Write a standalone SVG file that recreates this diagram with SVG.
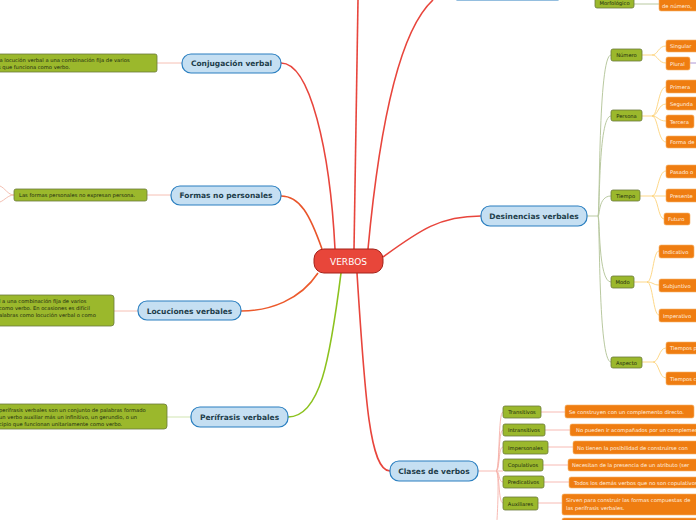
<svg xmlns="http://www.w3.org/2000/svg" width="696" height="520" viewBox="0 0 696 520">
<style>
text{font-family:"DejaVu Sans",Verdana,sans-serif}
.m{fill:#c5dff2;stroke:#2a7fc0;stroke-width:1.2}
.mt{font-size:7.5px;font-weight:bold;fill:#1d3d4a;text-anchor:middle}
.g{fill:#9bb82c;stroke:#6b7a3a;stroke-width:0.8}
.gt{font-size:5.2px;fill:#1c2a10}
.gtc{font-size:5.2px;fill:#1c2a10;text-anchor:middle}
.o{fill:#ef7d11;stroke:#f5b36a;stroke-width:0.6}
.ot{font-size:5.2px;fill:#fff2e0}
.c{fill:none}
</style>
<g id="connectors">
<path class="c" stroke="#e8453c" stroke-width="1.6" d="M335 249 C330 150 310 63 281 63"/>
<path class="c" stroke="#e9552b" stroke-width="1.6" d="M322 249 C310 215 300 196 281 196"/>
<path class="c" stroke="#ec5a2c" stroke-width="1.6" d="M318 273 C300 300 270 311 241 311"/>
<path class="c" stroke="#8cc21e" stroke-width="1.6" d="M341 273 C330 360 320 417 288 417"/>
<path class="c" stroke="#e8453c" stroke-width="1.6" d="M383 257 C420 230 440 216 481 216"/>
<path class="c" stroke="#e8453c" stroke-width="1.6" d="M357 273 C365 400 370 471 390 471"/>
<path class="c" stroke="#e8453c" stroke-width="1.6" d="M354 249 L358 0"/>
<path class="c" stroke="#e8453c" stroke-width="1.6" d="M368 249 C380 120 400 30 433 0"/>
<path class="c" stroke="#f6c0b4" stroke-width="1" d="M157 63 H182 M147 195 H171 M114 311 H138"/>
<path class="c" stroke="#d9eabf" stroke-width="1.2" d="M167 417 H191"/>
<path class="c" stroke="#f0b0a0" stroke-width="0.8" d="M14 195 C8 195 5 188 0 186 M14 195 C8 195 5 200 0 202"/>
<path class="c" stroke="#b9c9a0" stroke-width="1" d="M587 216 H598 C600 216 598 55 611 55 M598 216 C600 216 598 116 611 116 M598 216 C600 216 598 196 611 196 M598 216 C600 216 598 282 611 282 M598 216 C600 216 598 362 611 362 M634 4 H659"/>
<g stroke="#fdd27a" stroke-width="0.9" fill="none">
<path d="M642 55 H652 C658 55 658 46 666 46 M652 55 C658 55 658 63 666 63"/>
<path d="M642 116 H652 C658 116 658 87 666 87 M652 116 C658 116 658 104 666 104 M652 116 C658 116 658 121 666 121 M652 116 C658 116 658 142 666 142"/>
<path d="M640 196 H652 C658 196 658 171 666 171 M652 196 H666 M652 196 C658 196 658 219 664 219"/>
<path d="M634 282 H647 C653 282 653 251 659 251 M647 282 C653 282 653 285 659 285 M647 282 C653 282 653 315 659 315"/>
<path d="M642 362 H653 C659 362 659 348 666 348 M653 362 C659 362 659 378 666 378"/>
</g>
<path stroke="#a58ad0" stroke-width="0.9" d="M690 63 H696"/>
<g stroke="#f6b2aa" stroke-width="0.9" fill="none">
<path d="M478 471 H496 C500 471 498 412 503 412 M496 471 C500 471 498 430 503 430 M496 471 C500 471 498 447 503 447 M496 471 H503 M496 471 C500 471 498 482 503 482 M496 471 C500 471 498 503 503 503 M496 471 C500 471 497 520 497 520"/>
<path d="M541 412 H565 M545 430 H570 M548 447 H573 M543 465 H568 M544 482 H569 M538 503 H562"/>
</g>
</g>
<g id="top"><rect class="m" x="450" y="-20" width="115" height="20" rx="9"/></g>
<g id="morfologico"><rect class="g" x="595" y="-4" width="39" height="12" rx="2"/><text class="gtc" x="614.5" y="5">Morfológico</text></g>
<g id="morf-o"><rect class="o" x="659" y="-10" width="45" height="21" rx="2"/><text class="ot" x="662" y="8">de número,</text></g>
<g id="verbos"><rect x="314" y="249" width="69" height="24" rx="10" fill="#e8463a" stroke="#a5221a" stroke-width="1"/><text x="348.5" y="264.5" font-size="9" fill="#fff" text-anchor="middle">VERBOS</text></g>
<g id="conj"><rect class="m" x="182" y="54" width="99" height="19" rx="9"/><text class="mt" x="231.5" y="66">Conjugación verbal</text></g>
<g id="conj-n"><rect class="g" x="-10" y="54" width="167" height="18" rx="2"/><text class="gt" x="-2" y="62">la locución verbal a una combinación fija de varios</text><text class="gt" x="-2" y="69">s que funciona como verbo.</text></g>
<g id="formas"><rect class="m" x="171" y="186" width="110" height="19" rx="9"/><text class="mt" x="226" y="198">Formas no personales</text></g>
<g id="formas-n"><rect class="g" x="14" y="189" width="133" height="12" rx="2"/><text class="gt" x="19" y="197">Las formas personales no expresan persona.</text></g>
<g id="loc"><rect class="m" x="138" y="301" width="103" height="19" rx="9"/><text class="mt" x="189.5" y="313.5">Locuciones verbales</text></g>
<g id="loc-n"><rect class="g" x="-10" y="295" width="124" height="31" rx="3"/><text class="gt" x="-1" y="303">l a una combinación fija de varios</text><text class="gt" x="-1" y="310">como verbo. En ocasiones es difícil</text><text class="gt" x="-1" y="317">alabras como locución verbal o como</text></g>
<g id="peri"><rect class="m" x="191" y="407" width="97" height="20" rx="9"/><text class="mt" x="239.5" y="419.5">Perífrasis verbales</text></g>
<g id="peri-n"><rect class="g" x="-10" y="404" width="177" height="25" rx="3"/><text class="gt" x="-1" y="412">perífrasis verbales son un conjunto de palabras formado</text><text class="gt" x="-1" y="419">un verbo auxiliar más un infinitivo, un gerundio, o un</text><text class="gt" x="-1" y="426">cipio que funcionan unitariamente como verbo.</text></g>
<g id="desin"><rect class="m" x="481" y="206" width="106" height="20" rx="9"/><text class="mt" x="534" y="218.5">Desinencias verbales</text></g>
<g id="numero"><rect class="g" x="611" y="49" width="31" height="12" rx="2"/><text class="gtc" x="626.5" y="57">Número</text></g>
<g id="persona"><rect class="g" x="611" y="110" width="31" height="11" rx="2"/><text class="gtc" x="626.5" y="117.5">Persona</text></g>
<g id="tiempo"><rect class="g" x="611" y="190" width="29" height="11" rx="2"/><text class="gtc" x="625.5" y="197.5">Tiempo</text></g>
<g id="modo"><rect class="g" x="611" y="276" width="23" height="12" rx="2"/><text class="gtc" x="622.5" y="284">Modo</text></g>
<g id="aspecto"><rect class="g" x="611" y="357" width="31" height="11" rx="2"/><text class="gtc" x="626.5" y="364.5">Aspecto</text></g>
<g id="o1"><rect class="o" x="666" y="40" width="36" height="12" rx="2"/><text class="ot" x="670" y="48">Singular</text></g>
<g id="o2"><rect class="o" x="666" y="57" width="24" height="13" rx="2"/><text class="ot" x="670" y="65.5">Plural</text></g>
<g id="o3"><rect class="o" x="666" y="80" width="36" height="13" rx="2"/><text class="ot" x="670" y="88.5">Primera</text></g>
<g id="o4"><rect class="o" x="666" y="97" width="36" height="13" rx="2"/><text class="ot" x="670" y="105.5">Segunda</text></g>
<g id="o5"><rect class="o" x="666" y="115" width="28" height="13" rx="2"/><text class="ot" x="670" y="123.5">Tercera</text></g>
<g id="o6"><rect class="o" x="666" y="136" width="36" height="12" rx="2"/><text class="ot" x="670" y="144">Forma de</text></g>
<g id="o7"><rect class="o" x="666" y="165" width="36" height="13" rx="2"/><text class="ot" x="670" y="173.5">Pasado o</text></g>
<g id="o8"><rect class="o" x="666" y="189" width="36" height="13" rx="2"/><text class="ot" x="670" y="197.5">Presente</text></g>
<g id="o9"><rect class="o" x="664" y="213" width="26" height="12" rx="2"/><text class="ot" x="668" y="221">Futuro</text></g>
<g id="o10"><rect class="o" x="659" y="245" width="35" height="13" rx="2"/><text class="ot" x="663" y="253.5">Indicativo</text></g>
<g id="o11"><rect class="o" x="659" y="279" width="40" height="13" rx="2"/><text class="ot" x="663" y="287.5">Subjuntivo</text></g>
<g id="o12"><rect class="o" x="659" y="309" width="40" height="13" rx="2"/><text class="ot" x="663" y="317.5">Imperativo</text></g>
<g id="o13"><rect class="o" x="666" y="342" width="36" height="12" rx="2"/><text class="ot" x="670" y="350">Tiempos p</text></g>
<g id="o14"><rect class="o" x="666" y="372" width="36" height="13" rx="2"/><text class="ot" x="670" y="380.5">Tiempos c</text></g>
<g id="clases"><rect class="m" x="390" y="461" width="88" height="20" rx="9"/><text class="mt" x="434" y="473.5">Clases de verbos</text></g>
<g id="c1"><rect class="g" x="503" y="406" width="38" height="12" rx="2"/><text class="gtc" x="522" y="414">Transitivos</text></g>
<g id="c2"><rect class="g" x="503" y="424" width="42" height="12" rx="2"/><text class="gtc" x="524" y="432">Intransitivos</text></g>
<g id="c3"><rect class="g" x="503" y="441" width="45" height="13" rx="2"/><text class="gtc" x="525.5" y="449.5">Impersonales</text></g>
<g id="c4"><rect class="g" x="503" y="459" width="40" height="12" rx="2"/><text class="gtc" x="523" y="467">Copulativos</text></g>
<g id="c5"><rect class="g" x="503" y="476" width="41" height="12" rx="2"/><text class="gtc" x="523.5" y="484">Predicativos</text></g>
<g id="c6"><rect class="g" x="503" y="497" width="35" height="13" rx="2"/><text class="gtc" x="520.5" y="505.5">Auxiliares</text></g>
<g id="d1"><rect class="o" x="565" y="405" width="129" height="13" rx="2"/><text class="ot" x="569" y="413.5">Se construyen con un complemento directo.</text></g>
<g id="d2"><rect class="o" x="570" y="424" width="140" height="12" rx="2"/><text class="ot" x="576" y="432">No pueden ir acompañados por un complemento</text></g>
<g id="d3"><rect class="o" x="573" y="441" width="140" height="13" rx="2"/><text class="ot" x="577" y="449.5">No tienen la posibilidad de construirse con</text></g>
<g id="d4"><rect class="o" x="568" y="459" width="140" height="12" rx="2"/><text class="ot" x="572" y="467">Necesitan de la presencia de un atributo (ser</text></g>
<g id="d5"><rect class="o" x="569" y="477" width="140" height="11" rx="2"/><text class="ot" x="574" y="484.5">Todos los demás verbos que no son copulativos</text></g>
<g id="d6"><rect class="o" x="562" y="494" width="140" height="21" rx="2"/><text class="ot" x="566" y="502">Sirven para construir las formas compuestas de</text><text class="ot" x="566" y="509.5">las perífrasis verbales.</text></g>
<g id="d7"><rect class="o" x="562" y="518" width="140" height="10" rx="2"/></g>
</svg>
